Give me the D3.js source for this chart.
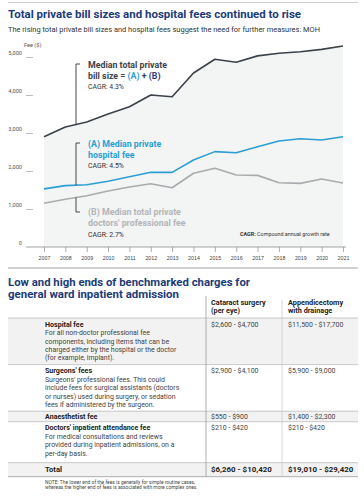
<!DOCTYPE html>
<html>
<head>
<meta charset="utf-8">
<script src="https://cdn.jsdelivr.net/npm/d3@7.9.0/dist/d3.min.js"></script>
<style>
  html, body { margin: 0; padding: 0; background: #fff; }
  svg { display: block; font-family: Roboto, "Noto Sans", sans-serif; }
</style>
</head>
<body>
<svg id="chart" width="364" height="499"></svg>
<script>
// ====== DATA ======
const years = [2007, 2008, 2009, 2010, 2011, 2012, 2013, 2014, 2015, 2016, 2017, 2018, 2019, 2020, 2021];
const totalBill = [2900, 3160, 3290, 3500, 3690, 4000, 3955, 4580, 4940, 4860, 5030, 5100, 5140, 5200, 5290];
const hospitalFee = [1530, 1615, 1640, 1730, 1850, 1965, 1965, 2290, 2510, 2480, 2640, 2790, 2850, 2815, 2900];
const doctorsFee = [1150, 1255, 1350, 1475, 1580, 1665, 1560, 1940, 2070, 1895, 1885, 1690, 1675, 1790, 1685];
const yTicks = [0, 1000, 2000, 3000, 4000, 5000];

const feeItems = ["Hospital fee", "Surgeons' fees", "Anaesthetist fee", "Doctors' inpatient attendance fee", "Total"];
const feeNotes = [
  ["For all non-doctor professional fee", "components, including items that can be",
   "charged either by the hospital or the doctor", "(for example, implant)."],
  ["Surgeons' professional fees. This could", "include fees for surgical assistants (doctors",
   "or nurses) used during surgery, or sedation", "fees if administered by the surgeon."],
  [],
  ["For medical consultations and reviews", "provided during inpatient admissions, on a", "per-day basis."],
  []
];
const cataract = ["$2,600 - $4,700", "$2,900 - $4,100", "$550 - $900", "$210 - $420", "$6,260 - $10,420"];
const appendicectomy = ["$11,500 - $17,700", "$5,900 - $9,000", "$1,400 - $2,300", "$210 - $420", "$19,010 - $29,420"];

const NAVY = "#213b77";
const svg = d3.select("#chart");

// ====== HEADER ======
svg.append("line").attr("x1", 8).attr("x2", 358).attr("y1", 2.5).attr("y2", 2.5)
  .attr("stroke", "#ccc").attr("stroke-width", 1);

svg.append("text").attr("x", 8).attr("y", 18)
  .attr("font-size", 11.5).attr("font-weight", 700).attr("fill", NAVY)
  .attr("textLength", 293).attr("lengthAdjust", "spacingAndGlyphs")
  .text("Total private bill sizes and hospital fees continued to rise");

svg.append("text").attr("x", 8).attr("y", 31.5)
  .attr("font-size", 6.4).attr("fill", "#333")
  .attr("textLength", 312).attr("lengthAdjust", "spacingAndGlyphs")
  .text("The rising total private bill sizes and hospital fees suggest the need for further measures: MOH");

// ====== LINE CHART ======
const x = d3.scalePoint().domain(years).range([44, 343]);
const y = d3.scaleLinear().domain([0, 5000]).range([247, 57]);

// area under total line
const area = d3.area()
  .x((d, i) => x(years[i]))
  .y0(y(0))
  .y1(d => y(d));
svg.append("path").datum(totalBill).attr("d", area).attr("fill", "#f3f4f4");

// y axis
const yAxis = svg.append("g").attr("transform", "translate(33,0)")
  .call(d3.axisLeft(y).tickValues(yTicks).tickSize(7).tickFormat(d3.format(",")));
yAxis.select(".domain").remove();
yAxis.selectAll(".tick line").attr("stroke", "#aaa").attr("stroke-width", 0.8)
  .filter(d => d === 0).remove();
yAxis.selectAll(".tick text").attr("x", -11).attr("y", -4.5).attr("dy", "0.32em")
  .attr("font-size", 5.6).attr("fill", "#555").attr("font-family", "Roboto, sans-serif");

svg.append("text").attr("x", 24).attr("y", 47)
  .attr("font-size", 5.6).attr("fill", "#555").text("Fee ($)");

// x axis
const xAxis = svg.append("g").attr("transform", `translate(0,${y(0)})`)
  .call(d3.axisBottom(x).tickSize(5).tickSizeOuter(0));
xAxis.select(".domain").remove();
xAxis.selectAll(".tick line").attr("stroke", "#999").attr("stroke-width", 0.8);
xAxis.selectAll(".tick text").attr("y", 9).attr("font-size", 5.3).attr("fill", "#444");
svg.append("line").attr("x1", 26).attr("x2", 346).attr("y1", y(0)).attr("y2", y(0))
  .attr("stroke", "#999").attr("stroke-width", 0.9);

// lines
const line = d3.line().x((d, i) => x(years[i])).y(d => y(d));
const series = [
  { values: doctorsFee, color: "#a9abae" },
  { values: hospitalFee, color: "#2c9fd2" },
  { values: totalBill, color: "#3b424a" }
];
series.forEach(s => {
  svg.append("path").datum(s.values).attr("d", line)
    .attr("fill", "none").attr("stroke", s.color).attr("stroke-width", 1.6)
    .attr("stroke-linejoin", "round");
});

// annotations
const bx = 76;
function bracket(yTop, yBottom, tickAtTop) {
  const g = svg.append("g").attr("stroke", "#333").attr("stroke-width", 0.9).attr("fill", "none");
  g.append("line").attr("x1", bx).attr("x2", bx).attr("y1", yTop).attr("y2", yBottom);
  const ty = tickAtTop ? yTop : yBottom;
  g.append("line").attr("x1", bx).attr("x2", bx + 4).attr("y1", ty).attr("y2", ty);
}
const midY = (arr) => (y(arr[1]) + y(arr[2])) / 2;

bracket(64, midY(totalBill), true);
bracket(143, midY(hospitalFee), true);
bracket(midY(doctorsFee), 212, false);

const tx = 88, labFs = 8.8, cagrFs = 6.9;
let t = svg.append("text").attr("x", tx).attr("y", 67.5).attr("font-size", labFs)
  .attr("font-weight", 700).attr("fill", "#3b424a").text("Median total private");
t = svg.append("text").attr("x", tx).attr("y", 78.5).attr("font-size", labFs)
  .attr("font-weight", 700).attr("fill", "#3b424a");
t.append("tspan").text("bill size = ");
t.append("tspan").attr("fill", "#2c9fd2").text("(A)");
t.append("tspan").text(" + ");
t.append("tspan").attr("fill", "#2e3a86").text("(B)");
svg.append("text").attr("x", tx).attr("y", 89).attr("font-size", cagrFs)
  .attr("fill", "#333").text("CAGR: 4.3%");

svg.append("text").attr("x", tx).attr("y", 146.5).attr("font-size", labFs)
  .attr("font-weight", 700).attr("fill", "#2c9fd2").text("(A) Median private");
svg.append("text").attr("x", tx).attr("y", 157.5).attr("font-size", labFs)
  .attr("font-weight", 700).attr("fill", "#2c9fd2").text("hospital fee");
svg.append("text").attr("x", tx).attr("y", 168).attr("font-size", cagrFs)
  .attr("fill", "#333").text("CAGR: 4.5%");

svg.append("text").attr("x", tx).attr("y", 215).attr("font-size", labFs)
  .attr("font-weight", 700).attr("fill", "#b3b5b8").text("(B) Median total private");
svg.append("text").attr("x", tx).attr("y", 226).attr("font-size", labFs)
  .attr("font-weight", 700).attr("fill", "#b3b5b8").text("doctors' professional fee");
svg.append("text").attr("x", tx).attr("y", 236.5).attr("font-size", cagrFs)
  .attr("fill", "#333").text("CAGR: 2.7%");

t = svg.append("text").attr("x", 240).attr("y", 236).attr("font-size", 5.4).attr("fill", "#333");
t.append("tspan").attr("font-weight", 700).text("CAGR:");
t.append("tspan").text(" Compound annual growth rate");

// ====== TABLE ======
svg.append("line").attr("x1", 8).attr("x2", 358).attr("y1", 268).attr("y2", 268)
  .attr("stroke", "#999").attr("stroke-width", 0.9);

svg.append("text").attr("x", 8).attr("y", 285.5)
  .attr("font-size", 10.5).attr("font-weight", 700).attr("fill", NAVY)
  .attr("textLength", 242).attr("lengthAdjust", "spacingAndGlyphs")
  .text("Low and high ends of benchmarked charges for");
svg.append("text").attr("x", 8).attr("y", 298)
  .attr("font-size", 10.5).attr("font-weight", 700).attr("fill", NAVY)
  .attr("textLength", 171).attr("lengthAdjust", "spacingAndGlyphs")
  .text("general ward inpatient admission");

const c1 = 211, c2 = 288, leftX = 45;
[["Cataract surgery", "(per eye)"], ["Appendicectomy", "with drainage"]].forEach((h, i) => {
  h.forEach((s, j) => {
    svg.append("text").attr("x", i === 0 ? c1 : c2).attr("y", 304.5 + j * 8.6)
      .attr("font-size", 7.3).attr("font-weight", 700).attr("fill", "#222").text(s);
  });
});

// row layout from number of description lines
const rowTops = [];
let rowY = 318;
feeItems.forEach((item, i) => {
  rowTops.push(rowY);
  const n = feeNotes[i].length;
  rowY += n ? Math.max(41, 13 + n * 8.4) : (i === feeItems.length - 1 ? 14 : 10.5);
});
const tableBottom = rowY;

feeItems.forEach((item, i) => {
  const rt = rowTops[i];
  const rh = (i < feeItems.length - 1 ? rowTops[i + 1] : tableBottom) - rt;
  const isTotal = i === feeItems.length - 1;
  const hasNotes = feeNotes[i].length > 0;
  svg.append("rect").attr("x", 8).attr("y", rt).attr("width", 350).attr("height", rh)
    .attr("fill", i % 2 === 0 ? "#f2f2f2" : "#fff");
  svg.append("line").attr("x1", 8).attr("x2", 358).attr("y1", rt).attr("y2", rt)
    .attr("stroke", "#bbb").attr("stroke-width", 0.8);
  const ty = rt + (isTotal ? 9.5 : hasNotes ? 8.6 : 7.3);
  svg.append("text").attr("x", leftX).attr("y", ty)
    .attr("font-size", isTotal ? 7.6 : 7.1).attr("font-weight", 700).attr("fill", "#222").text(item);
  feeNotes[i].forEach((s, j) => {
    svg.append("text").attr("x", leftX).attr("y", ty + 8.5 + j * 8.4)
      .attr("font-size", 6.9).attr("fill", "#444").text(s);
  });
  [[c1, cataract[i]], [c2, appendicectomy[i]]].forEach(([cx, v]) => {
    svg.append("text").attr("x", cx).attr("y", ty)
      .attr("font-size", isTotal ? 7.9 : 7).attr("font-weight", isTotal ? 700 : 400)
      .attr("fill", isTotal ? "#222" : "#444").text(v);
  });
});
svg.append("line").attr("x1", 8).attr("x2", 358).attr("y1", tableBottom).attr("y2", tableBottom)
  .attr("stroke", "#999").attr("stroke-width", 0.8);

svg.append("line").attr("x1", 206).attr("x2", 206).attr("y1", 296).attr("y2", tableBottom)
  .attr("stroke", "#999").attr("stroke-width", 0.8);
svg.append("line").attr("x1", 282).attr("x2", 282).attr("y1", 300).attr("y2", tableBottom)
  .attr("stroke", "#ccc").attr("stroke-width", 0.8);

["NOTE: The lower end of the fees is generally for simple routine cases,",
 "whereas the higher end of fees is associated with more complex ones."].forEach((s, j) => {
  svg.append("text").attr("x", leftX).attr("y", tableBottom + 7 + j * 5.2)
    .attr("font-size", 4.9).attr("fill", "#444").text(s);
});
</script>
</body>
</html>
